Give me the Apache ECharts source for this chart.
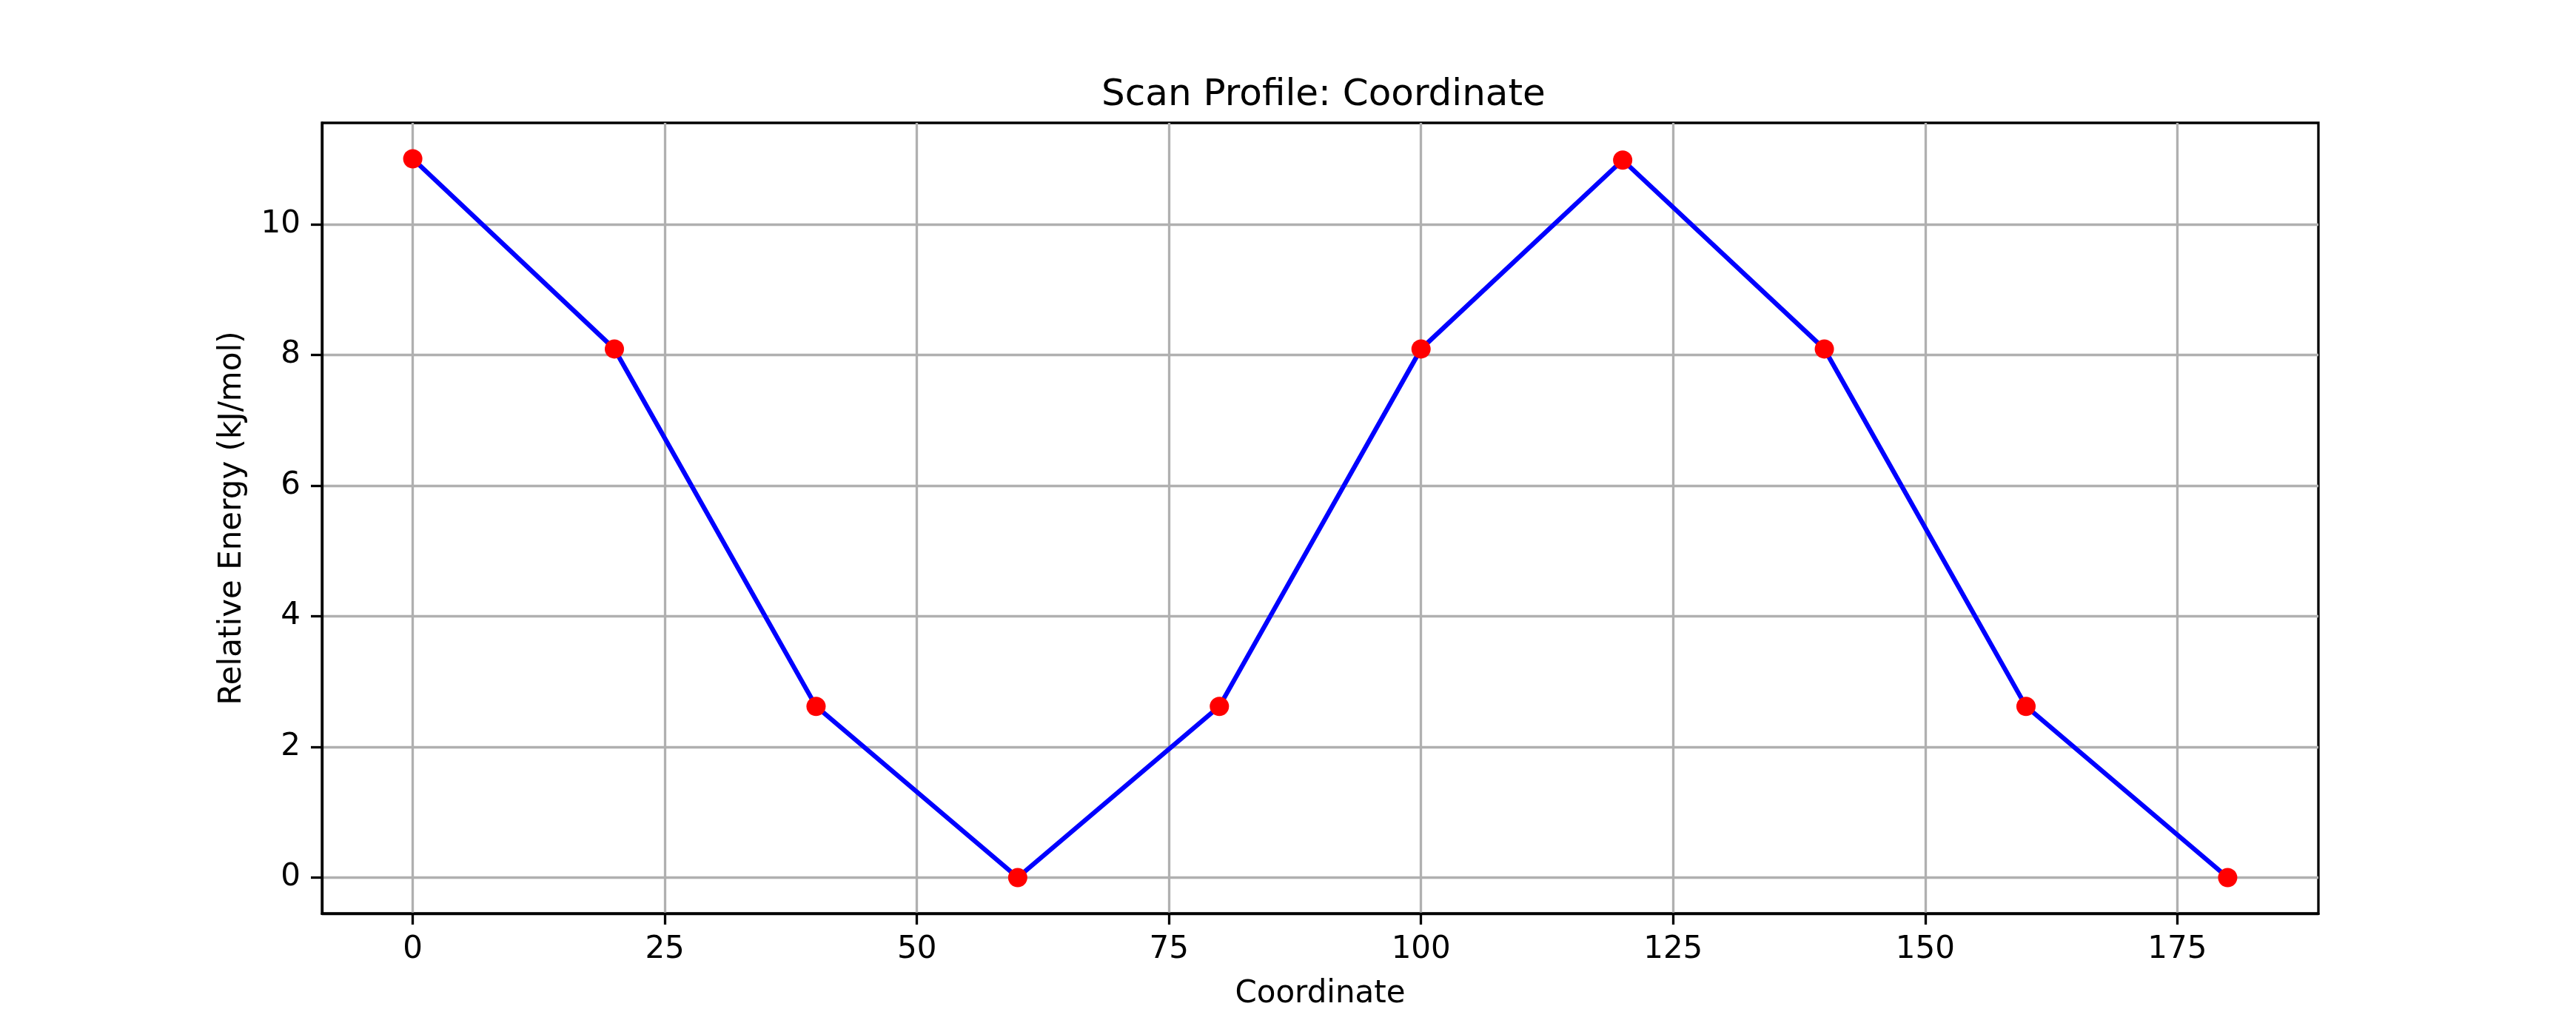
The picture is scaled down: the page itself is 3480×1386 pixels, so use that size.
<!DOCTYPE html>
<html>
<head>
<meta charset="utf-8">
<script src="https://cdn.jsdelivr.net/npm/echarts@6/dist/echarts.min.js"></script>
<style>
html,body{margin:0;padding:0;background:#fff;}
#chart{width:3480px;height:1386px;}
</style>
</head>
<body>
<div id="chart"></div>
<script>
const coordinates = [0, 20, 40, 60, 80, 100, 120, 140, 160, 180];
const energies = [11.0, 8.09, 2.62, 0.0, 2.62, 8.09, 10.98, 8.09, 2.62, 0.0];
const xTicks = [0, 25, 50, 75, 100, 125, 150, 175];
const yTicks = [0, 2, 4, 6, 8, 10];
const titleText = 'Scan Profile: Coordinate';
const xName = 'Coordinate';
const yName = 'Relative Energy (kJ/mol)';

const FONT = 'DejaVu Sans';
const chart = echarts.init(document.getElementById('chart'), null, {renderer: 'canvas'});

const xMin = -9, xMax = 189;
const yMin = -0.55, yMax = 11.55;

chart.setOption({
  animation: false,
  backgroundColor: '#ffffff',
  title: {
    text: titleText,
    left: 1783,
    textAlign: 'center',
    top: 99,
    textStyle: {fontFamily: FONT, fontSize: 50, fontWeight: 'normal', color: '#000'}
  },
  grid: {
    left: 435, right: 348, top: 166, bottom: 152,
    show: true, borderColor: '#000', borderWidth: 3.3, backgroundColor: 'transparent'
  },
  xAxis: {
    type: 'value',
    min: xMin, max: xMax,
    name: xName,
    nameLocation: 'middle',
    nameGap: 88,
    nameTextStyle: {fontFamily: FONT, fontSize: 42, color: '#000'},
    axisLine: {show: true, onZero: false, lineStyle: {color: '#000', width: 3.3}},
    axisTick: {show: true, length: 15, lineStyle: {color: '#000', width: 3.3}, customValues: xTicks},
    axisLabel: {fontFamily: FONT, fontSize: 42, color: '#000', margin: 28, customValues: xTicks},
    splitLine: {show: true, lineStyle: {color: '#b0b0b0', width: 3.3}}
  },
  yAxis: {
    type: 'value',
    min: yMin, max: yMax,
    name: yName,
    nameLocation: 'middle',
    nameGap: 100,
    nameTextStyle: {fontFamily: FONT, fontSize: 42, color: '#000'},
    axisLine: {show: true, onZero: false, lineStyle: {color: '#000', width: 3.3}},
    axisTick: {show: true, length: 15, lineStyle: {color: '#000', width: 3.3}, customValues: yTicks},
    axisLabel: {fontFamily: FONT, fontSize: 42, color: '#000', margin: 29, customValues: yTicks},
    splitLine: {show: true, lineStyle: {color: '#b0b0b0', width: 3.3}}
  },
  series: [{
    type: 'line',
    data: coordinates.map((c, i) => [c, energies[i]]),
    symbol: 'circle',
    symbolSize: 26,
    showAllSymbol: true,
    lineStyle: {color: '#0000ff', width: 6.25},
    itemStyle: {color: '#ff0000', borderWidth: 0},
    z: 3
  }]
});
</script>
</body>
</html>
